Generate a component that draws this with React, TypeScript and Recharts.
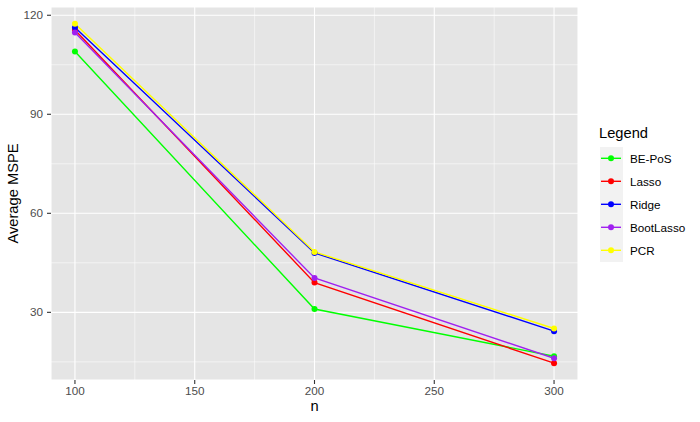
import React from "react";
import { LineChart, Line, XAxis, YAxis, CartesianGrid, ReferenceLine } from "recharts";

const nValues = [100, 200, 300];
const bePos = [109.0, 31.0, 16.7];
const lasso = [115.5, 39.0, 14.6];
const ridge = [116.3, 48.0, 24.3];
const bootLasso = [114.8, 40.4, 16.1];
const pcr = [117.4, 48.3, 25.1];

const xTicks = [100, 150, 200, 250, 300];
const xMinor = [125, 175, 225, 275];
const yTicks = [30, 60, 90, 120];
const yMinor = [15, 45, 75, 105];

const series = [
  { key: "BE-PoS", values: bePos, color: "#00FF00" },
  { key: "Lasso", values: lasso, color: "#FF0000" },
  { key: "Ridge", values: ridge, color: "#0000FF" },
  { key: "BootLasso", values: bootLasso, color: "#A020F0" },
  { key: "PCR", values: pcr, color: "#FFFF00" },
];

const data = nValues.map((n, i) => {
  const row: Record<string, number> = { n };
  series.forEach((s) => (row[s.key] = s.values[i]));
  return row;
});

const FONT = "'Liberation Sans', Arial, Helvetica, sans-serif";
const tickStyle = { fill: "#4D4D4D", fontSize: 11.7, fontFamily: FONT };

export default function App() {
  return (
    <div style={{ position: "relative", width: 700, height: 422, fontFamily: FONT }}>
      <style>{`body{margin:0}`}</style>
      <LineChart width={700} height={422} data={data} margin={{ top: 7, right: 122, bottom: 0, left: 0 }}>
        <CartesianGrid fill="#E5E5E5" stroke="#FFFFFF" strokeWidth={1.1} />
        {xMinor.map((v) => (
          <ReferenceLine key={"x" + v} x={v} stroke="#FFFFFF" strokeWidth={0.55} />
        ))}
        {yMinor.map((v) => (
          <ReferenceLine key={"y" + v} y={v} stroke="#FFFFFF" strokeWidth={0.55} />
        ))}
        <XAxis
          dataKey="n"
          type="number"
          domain={[90, 310]}
          ticks={xTicks}
          axisLine={false}
          tickLine={{ stroke: "#333333", strokeWidth: 1.1 }}
          tickSize={4}
          tickMargin={3}
          tick={tickStyle}
          height={42}
          label={{
            content: (p: any) => {
              const vb = p.viewBox || {};
              return (
                <text
                  x={vb.x + vb.width / 2}
                  y={vb.y + 31}
                  textAnchor="middle"
                  fill="#000"
                  fontSize={14.7}
                  fontFamily={FONT}
                >
                  n
                </text>
              );
            },
          }}
        />
        <YAxis
          type="number"
          domain={[9.5, 122.5]}
          ticks={yTicks}
          axisLine={false}
          tickLine={{ stroke: "#333333", strokeWidth: 1.1 }}
          tickSize={4}
          tickMargin={4}
          tick={tickStyle}
          width={51}
          label={{
            content: (p: any) => {
              const vb = p.viewBox || {};
              const cx = 18;
              const cy = vb.y + vb.height / 2;
              return (
                <text
                  x={cx}
                  y={cy}
                  transform={`rotate(-90, ${cx}, ${cy})`}
                  textAnchor="middle"
                  fill="#000"
                  fontSize={14.7}
                  fontFamily={FONT}
                >
                  Average MSPE
                </text>
              );
            },
          }}
        />
        {series.map((s) => (
          <Line
            key={s.key}
            dataKey={s.key}
            stroke={s.color}
            strokeWidth={1.4}
            dot={{ r: 3, fill: s.color, stroke: s.color, strokeWidth: 0 }}
            activeDot={false}
            isAnimationActive={false}
          />
        ))}
      </LineChart>
      <svg
        width={700}
        height={422}
        style={{ position: "absolute", left: 0, top: 0, pointerEvents: "none" }}
      >
        <text x={599} y={138} fontSize={14.7} fontFamily={FONT} fill="#000">
          Legend
        </text>
        <rect x={600} y={147} width={23} height={115} fill="#F2F2F2" />
        {series.map((s, i) => {
          const cy = 158.3 + i * 23;
          return (
            <g key={s.key}>
              <line x1={601} x2={621} y1={cy} y2={cy} stroke={s.color} strokeWidth={1.4} />
              <circle cx={611} cy={cy} r={3} fill={s.color} />
              <text x={630} y={cy} dominantBaseline="central" fontSize={11.7} fontFamily={FONT} fill="#000">
                {s.key}
              </text>
            </g>
          );
        })}
      </svg>
    </div>
  );
}
